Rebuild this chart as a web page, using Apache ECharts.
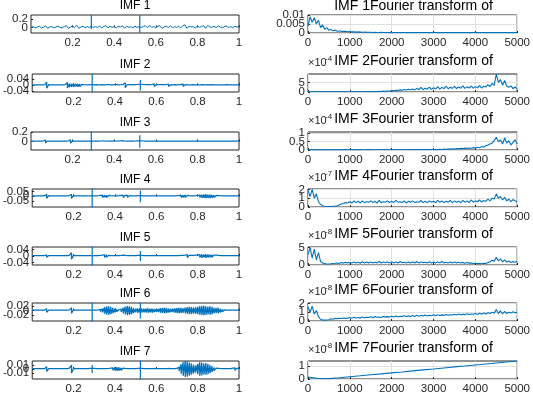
<!DOCTYPE html>
<html><head><meta charset="utf-8">
<script src="https://cdn.jsdelivr.net/npm/echarts@6/dist/echarts.min.js"></script>
<style>html,body{margin:0;padding:0;background:#fff}#c{width:533px;height:396px}</style>
</head><body><div id="c"></div>
<script>
// ---------- DATA ----------
const imfNames = ['IMF 1','IMF 2','IMF 3','IMF 4','IMF 5','IMF 6','IMF 7'];
const timeTicks = [0.2,0.4,0.6,0.8,1];
const freqTicks = [0,1000,2000,3000,4000,5000];

// IMF 1 signal (value per sample, t = 0..1)
const imf1 = [
0.00,0.02,-0.01,0.01,0.03,-0.01,0.00,0.04,-0.02,0.01,
0.02,-0.01,0.01,0.03,0.00,-0.01,0.02,0.04,-0.02,0.01,
0.03,0.00,0.05,-0.02,0.01,0.03,-0.01,0.02,0.00,0.02,
0.00,0.02,0.00,0.03,-0.01,0.02,0.04,-0.01,0.03,0.00,
0.02,-0.01,0.03,0.01,0.04,-0.02,0.03,0.00,0.02,-0.01,
0.03,0.00,0.02,0.00,0.02,0.04,-0.01,0.05,0.00,0.02,
-0.01,0.03,0.04,-0.02,0.01,0.03,0.00,0.04,-0.01,0.02,
0.00,0.03,-0.01,0.04,0.06,-0.02,0.03,0.01,0.02,-0.01,
0.03,0.00,0.02,0.04,-0.02,0.05,0.01,0.00,0.03,-0.01,
0.04,0.01,-0.01,0.02,0.03,0.00,0.02,-0.01,0.03,0.01,
0.02];
// IMF 2..7: oscillation envelope (half band height) per sample, t = 0..1
const imf2Env = [
0.003,0.003,0.003,0.003,0.003,0.003,0.004,0.02,0.004,0.003,
0.003,0.003,0.003,0.003,0.003,0.003,0.004,0.018,0.012,0.01,
0.011,0.009,0.01,0.008,0.006,0.004,0.003,0.003,0.004,0.004,
0.003,0.004,0.003,0.003,0.004,0.003,0.004,0.004,0.003,0.003,
0.004,0.004,0.003,0.004,0.006,0.016,0.005,0.004,0.003,0.004,
0.004,0.005,0.006,0.006,0.005,0.004,0.005,0.004,0.006,0.009,
0.005,0.004,0.005,0.004,0.004,0.005,0.008,0.004,0.003,0.004,
0.003,0.004,0.004,0.009,0.004,0.003,0.003,0.003,0.004,0.003,
0.003,0.003,0.004,0.003,0.003,0.004,0.003,0.004,0.003,0.003,
0.003,0.003,0.003,0.003,0.004,0.003,0.003,0.003,0.003,0.003,
0.003];
const imf3Env = [
0.008,0.008,0.008,0.008,0.008,0.008,0.01,0.03,0.01,0.008,
0.008,0.008,0.008,0.008,0.008,0.008,0.008,0.008,0.01,0.035,
0.01,0.008,0.008,0.008,0.008,0.008,0.008,0.008,0.01,0.01,
0.008,0.008,0.008,0.008,0.01,0.012,0.01,0.008,0.008,0.008,
0.014,0.01,0.012,0.01,0.02,0.01,0.008,0.008,0.008,0.008,
0.01,0.012,0.012,0.012,0.01,0.008,0.008,0.008,0.008,0.008,
0.008,0.008,0.009,0.008,0.008,0.008,0.008,0.009,0.008,0.008,
0.008,0.008,0.008,0.01,0.008,0.008,0.008,0.008,0.008,0.008,
0.008,0.008,0.009,0.008,0.008,0.008,0.008,0.008,0.008,0.008,
0.008,0.008,0.008,0.008,0.008,0.008,0.008,0.008,0.008,0.008,
0.008];
const imf4Env = [
0.004,0.004,0.004,0.004,0.004,0.004,0.006,0.02,0.006,0.004,
0.004,0.004,0.004,0.004,0.004,0.004,0.004,0.005,0.008,0.022,
0.006,0.004,0.004,0.004,0.004,0.004,0.004,0.004,0.005,0.005,
0.005,0.004,0.006,0.01,0.013,0.011,0.012,0.009,0.006,0.005,
0.004,0.005,0.006,0.01,0.012,0.009,0.011,0.006,0.004,0.005,
0.004,0.006,0.006,0.006,0.005,0.004,0.004,0.005,0.004,0.004,
0.004,0.005,0.004,0.004,0.005,0.004,0.004,0.005,0.004,0.005,
0.006,0.008,0.012,0.011,0.013,0.009,0.006,0.005,0.005,0.006,
0.008,0.012,0.016,0.018,0.02,0.017,0.019,0.014,0.012,0.01,
0.008,0.006,0.005,0.004,0.004,0.004,0.004,0.004,0.004,0.004,
0.004];
const imf5Env = [
0.0025,0.0025,0.0025,0.0025,0.0025,0.0025,0.003,0.007,0.003,0.0025,
0.0025,0.0025,0.0025,0.0025,0.0025,0.0025,0.0025,0.003,0.004,0.02,
0.004,0.0025,0.0025,0.0025,0.0025,0.0025,0.0025,0.0025,0.003,0.003,
0.003,0.0025,0.003,0.004,0.006,0.009,0.007,0.004,0.003,0.0025,
0.003,0.003,0.003,0.004,0.006,0.004,0.003,0.003,0.0025,0.003,
0.003,0.004,0.004,0.004,0.003,0.0025,0.003,0.003,0.003,0.0025,
0.003,0.0025,0.003,0.003,0.0025,0.003,0.003,0.0025,0.003,0.003,
0.003,0.003,0.004,0.004,0.005,0.009,0.005,0.004,0.004,0.005,
0.006,0.008,0.01,0.009,0.011,0.009,0.008,0.007,0.006,0.005,
0.004,0.003,0.0025,0.0025,0.0025,0.0025,0.0025,0.0025,0.0025,0.0025,
0.0025];
const imf6Env = [
0.0018,0.0018,0.0018,0.0018,0.0018,0.0018,0.002,0.008,0.002,0.0018,
0.0018,0.0018,0.0018,0.0018,0.0018,0.0018,0.0018,0.002,0.003,0.012,
0.003,0.0018,0.0018,0.0018,0.0018,0.002,0.0018,0.002,0.002,0.002,
0.002,0.002,0.003,0.005,0.009,0.014,0.018,0.019,0.016,0.012,
0.008,0.005,0.004,0.006,0.012,0.017,0.02,0.019,0.016,0.011,
0.008,0.01,0.009,0.009,0.008,0.009,0.01,0.008,0.009,0.007,
0.006,0.007,0.01,0.011,0.012,0.011,0.009,0.007,0.008,0.01,
0.011,0.012,0.011,0.01,0.012,0.014,0.016,0.015,0.013,0.014,
0.016,0.019,0.02,0.021,0.019,0.017,0.019,0.016,0.012,0.011,
0.012,0.008,0.005,0.003,0.002,0.002,0.0018,0.0018,0.0018,0.0018,
0.0018];
const imf7Env = [
0.0008,0.0008,0.0008,0.0008,0.0008,0.0008,0.001,0.006,0.001,0.0008,
0.0008,0.0008,0.0008,0.0008,0.0008,0.0008,0.0008,0.001,0.002,0.01,
0.0015,0.0008,0.0008,0.0008,0.0008,0.0008,0.0008,0.001,0.0015,0.0015,
0.0015,0.001,0.001,0.001,0.001,0.0012,0.0012,0.0015,0.002,0.003,
0.004,0.0045,0.004,0.003,0.002,0.0015,0.0012,0.001,0.001,0.001,
0.001,0.0015,0.0015,0.0015,0.001,0.001,0.001,0.001,0.001,0.001,
0.001,0.001,0.0012,0.0012,0.001,0.0012,0.0015,0.0012,0.001,0.0012,
0.0015,0.005,0.012,0.017,0.02,0.019,0.016,0.014,0.011,0.009,
0.013,0.017,0.016,0.014,0.015,0.013,0.01,0.007,0.004,0.002,
0.0015,0.001,0.001,0.0008,0.0008,0.0008,0.0008,0.002,0.003,0.002,
0.0012];
// sharp transients shared by all IMFs: time, and top / bottom value per IMF
const spikeTimes = [0.29, 0.523];
const spikeTop = [[0.29,0.29],[0.2,0.035],[0.5,0.13],[0.3,0.06],[0.2,0.03],[0.2,0.035],[0.01,0.04]];
const spikeBottom = [[-0.04,-0.13],[-0.2,-0.035],[-0.5,-0.13],[-0.3,-0.06],[-0.2,-0.03],[-0.2,-0.035],[-0.01,-0.04]];

const leftYRange = [[-0.13,0.29],[-0.045,0.075],[-0.18,0.2],[-0.11,0.075],[-0.055,0.055],[-0.046,0.033],[-0.025,0.02]];
const leftYTicks = [[0,0.2],[-0.04,0,0.04],[0,0.2],[-0.05,0,0.05],[-0.04,0,0.04],[-0.02,0,0.02],[-0.01,0,0.01]];

// Fourier spectra magnitudes, frequency 0..5000 (evenly spaced samples)
const spec1 = [
0.004,0.009,0.006,0.0085,0.005,0.007,0.003,0.0045,0.002,0.003,
0.0015,0.002,0.0012,0.0016,0.001,0.0012,0.0008,0.001,0.0009,0.0007,
0.0008,0.0006,0.0007,0.0005,0.0006,0.0005,0.0004,0.0005,0.0004,0.0004,
0.0004,0.0003,0.0004,0.0003,0.0003,0.0004,0.0003,0.0003,0.0002,0.0003,
0.0002,0.0003,0.0002,0.0003,0.0002,0.0002,0.0003,0.0002,0.0002,0.0003,
0.0002,0.0002,0.0003,0.0002,0.0002,0.0003,0.0002,0.0002,0.0002,0.0003,
0.0002,0.0002,0.0003,0.0002,0.0002,0.0002,0.0003,0.0002,0.0002,0.0002,
0.0003,0.0002,0.0002,0.0002,0.0003,0.0002,0.0002,0.0002,0.0002,0.0003,
0.0002,0.0002,0.0002,0.0003,0.0002,0.0002,0.0002,0.0002,0.0003,0.0002,
0.0002,0.0002,0.0003,0.0002,0.0002,0.0002,0.0002,0.0003,0.0002,0.0002,
0.0002];
const spec2 = [
0.1,0.15,0.1,0.12,0.1,0.15,0.1,0.12,0.1,0.1,
0.1,0.12,0.1,0.1,0.12,0.1,0.1,0.12,0.1,0.1,
0.12,0.1,0.15,0.1,0.12,0.15,0.12,0.15,0.2,0.15,
0.2,0.25,0.2,0.3,0.35,0.3,0.45,0.4,0.55,0.5,
0.7,0.6,0.9,0.8,1.1,0.9,1.3,1.0,1.4,1.2,
1.6,1.1,1.8,1.3,2.4,1.2,2.0,1.5,2.6,1.4,
2.2,1.6,2.8,1.5,2.4,1.8,3.0,1.7,2.5,1.9,
2.9,1.8,2.6,2.0,3.2,1.9,2.7,2.1,3.1,2.0,
2.8,2.2,3.4,2.0,3.0,2.6,3.8,2.8,4.5,3.5,
9.4,5.0,6.5,3.5,6.0,3.0,2.5,3.2,1.8,2.6,
1.5];
const spec3 = [
0.02,0.01,0.015,0.01,0.012,0.01,0.015,0.01,0.012,0.01,
0.012,0.01,0.014,0.01,0.012,0.01,0.013,0.01,0.012,0.01,
0.012,0.01,0.014,0.01,0.013,0.01,0.012,0.011,0.014,0.01,
0.013,0.011,0.015,0.012,0.014,0.011,0.016,0.012,0.015,0.012,
0.016,0.012,0.018,0.013,0.017,0.013,0.019,0.014,0.018,0.015,
0.02,0.015,0.022,0.016,0.021,0.017,0.024,0.018,0.023,0.02,
0.025,0.03,0.022,0.04,0.03,0.05,0.04,0.06,0.05,0.07,
0.06,0.08,0.07,0.1,0.08,0.11,0.09,0.12,0.1,0.14,
0.12,0.16,0.13,0.2,0.18,0.25,0.3,0.35,0.4,0.55,
0.75,0.5,0.6,0.35,0.72,0.4,0.55,0.3,0.45,0.6,
0.35];
const spec4 = [
1.9,1.2,2.0,1.0,1.5,0.6,0.3,0.15,0.08,0.05,
0.05,0.06,0.08,0.1,0.15,0.25,0.35,0.4,0.5,0.45,
0.6,0.45,0.7,0.5,0.65,0.45,0.7,0.5,0.6,0.55,
0.7,0.5,0.65,0.45,0.75,0.5,0.6,0.55,0.7,0.5,
0.65,0.5,0.75,0.55,0.6,0.5,0.7,0.45,0.65,0.55,
0.7,0.5,0.6,0.55,0.75,0.5,0.65,0.5,0.7,0.55,
0.65,0.5,0.75,0.55,0.7,0.5,0.65,0.55,0.75,0.5,
0.7,0.55,0.65,0.5,0.75,0.55,0.7,0.5,0.8,0.55,
0.7,0.6,0.8,0.55,0.75,0.65,0.9,0.7,1.0,0.9,
1.5,1.0,1.2,0.8,1.1,0.7,0.9,0.6,0.85,0.7,
0.6];
const spec5 = [
3.0,5.0,2.0,4.6,1.5,3.6,1.0,0.6,0.4,0.3,
0.3,0.35,0.45,0.5,0.6,0.45,0.7,0.55,0.8,0.6,
0.75,0.55,0.9,0.6,0.8,0.5,0.95,0.6,0.85,0.55,
0.9,0.6,0.8,0.55,1.0,0.6,0.85,0.65,0.9,0.55,
0.95,0.6,0.85,0.6,1.0,0.65,0.8,0.55,0.9,0.6,
0.85,0.6,1.0,0.55,0.9,0.65,0.8,0.6,0.95,0.55,
0.9,0.6,0.85,0.65,1.0,0.6,0.8,0.55,0.9,0.6,
0.85,0.55,0.8,0.6,0.75,0.5,0.7,0.55,0.6,0.45,
0.5,0.4,0.45,0.35,0.5,0.45,0.7,0.9,1.4,1.1,
2.2,1.2,1.8,0.9,1.5,0.8,1.2,0.7,1.0,0.8,
1.0];
const spec6 = [
1.6,1.0,1.7,0.8,1.2,0.5,0.2,0.12,0.1,0.12,
0.15,0.25,0.2,0.3,0.25,0.3,0.28,0.35,0.3,0.33,
0.4,0.3,0.42,0.35,0.4,0.33,0.45,0.38,0.42,0.4,
0.48,0.38,0.5,0.42,0.46,0.4,0.52,0.44,0.5,0.45,
0.55,0.45,0.58,0.48,0.55,0.5,0.6,0.5,0.58,0.52,
0.62,0.52,0.65,0.55,0.62,0.56,0.68,0.58,0.65,0.6,
0.7,0.6,0.72,0.62,0.7,0.64,0.75,0.65,0.72,0.68,
0.78,0.68,0.8,0.7,0.78,0.72,0.82,0.74,0.8,0.76,
0.85,0.75,0.88,0.78,0.9,0.8,0.95,0.85,1.0,0.9,
1.3,0.85,1.15,0.8,1.1,0.85,1.0,0.9,1.05,0.95,
1.0];
const spec7 = [0.15,0.04,0.03,0.1,0.18,0.25,0.33,0.4,0.48,0.55,0.63,0.71,0.78,0.86,0.94,1.01,1.09,1.17,1.25,1.32,1.4];
const rightYMax = [0.01,9.4,1.06,2.05,5.2,2.05,1.4];
const rightYTicks = [[0,0.005,0.01],[0,5],[0,0.5,1],[0,1,2],[0,5],[0,1,2],[0,1]];
const rightExp = [null,'-4','-4','-7','-8','-8','-8'];

const imfSignals = [imf1, imf2Env, imf3Env, imf4Env, imf5Env, imf6Env, imf7Env];
const spectra = [spec1, spec2, spec3, spec4, spec5, spec6, spec7];

// ---------- LAYOUT / STYLE ----------
const FONT = '"Liberation Sans", Arial, Helvetica, sans-serif';
const TXT = '#262626';
const BLUE = '#0072BD';
const GRIDC = '#e0e0e0';
const rowTops = [15,74,132,189,247,303,361];
const boxH = 18;
const L = {x:31, w:208}, R = {x:308, w:211};
const tickFont = 11.5, titleFont = 12, rTitleFont = 14;

const grids = [], xAxes = [], yAxes = [], series = [], gfx = [];
const lbl = (vals) => ({show: true, customValues: vals, showMinLabel: true, showMaxLabel: true, hideOverlap: false,
  formatter: v => String(v), margin: 4, fontSize: tickFont, color: TXT, fontFamily: FONT});
const tck = (vals) => ({show: true, inside: true, length: 2, customValues: vals, lineStyle: {color: TXT, width: 1}});

// one y axis per tick so that close labels are all kept
function addYAxes(gridIndex, min, max, ticks, split) {
  const first = yAxes.length;
  ticks.forEach(v => yAxes.push({gridIndex, type: 'value', position: 'left', offset: 0, min, max, axisLine: {show: false},
    axisTick: tck([v]), axisLabel: Object.assign(lbl([v]), {margin: 3}),
    splitLine: {show: split, lineStyle: {color: GRIDC, width: 1}}}));
  return first;
}

for (let r = 0; r < 7; r++) {
  const top = rowTops[r];
  grids.push({left: L.x, top: top, width: L.w, height: boxH, show: true, borderColor: TXT, borderWidth: 1, backgroundColor: '#fff', containLabel: false});
  grids.push({left: R.x, top: top, width: R.w, height: boxH, show: true, borderColor: TXT, borderWidth: 1, backgroundColor: '#fff', containLabel: false});
  const gl = 2*r, gr = 2*r + 1;
  const xl = xAxes.length;
  xAxes.push({gridIndex: gl, type: 'value', position: 'bottom', min: 0, max: 1, axisLine: {show: false}, axisTick: tck(timeTicks), axisLabel: lbl(timeTicks), splitLine: {show: false}});
  const xr = xAxes.length;
  xAxes.push({gridIndex: gr, type: 'value', position: 'bottom', min: 0, max: 5000, axisLine: {show: false}, axisTick: tck(freqTicks), axisLabel: lbl(freqTicks), splitLine: {show: true, lineStyle: {color: GRIDC, width: 1}}});
  const yl = addYAxes(gl, leftYRange[r][0], leftYRange[r][1], leftYTicks[r], false);
  const yr = addYAxes(gr, 0, rightYMax[r], rightYTicks[r], true);

  const sig = imfSignals[r];
  const n = sig.length;
  let pts = [];
  if (r === 0) {
    sig.forEach((v, i) => pts.push([i/(n-1), v]));
  } else {
    sig.forEach((a, i) => { const t = i/(n-1); pts.push([t, a], [t, -a]); });
  }
  const lineBase = {type: 'line', showSymbol: false, symbol: 'none', clip: true, silent: true, animation: false, connectNulls: false};
  series.push(Object.assign({}, lineBase, {xAxisIndex: xl, yAxisIndex: yl, data: pts, lineStyle: {color: BLUE, width: r === 0 ? 1 : 1.25}}));
  const sp = [];
  spikeTimes.forEach((t, k) => { sp.push([t, spikeTop[r][k]], [t, spikeBottom[r][k]], [t, '-']); });
  series.push(Object.assign({}, lineBase, {xAxisIndex: xl, yAxisIndex: yl, data: sp, lineStyle: {color: BLUE, width: 1.2}}));

  const spec = spectra[r];
  const m = spec.length;
  series.push(Object.assign({}, lineBase, {xAxisIndex: xr, yAxisIndex: yr, data: spec.map((v, i) => [i*5000/(m-1), v]), lineStyle: {color: BLUE, width: 1.1}}));

  gfx.push({type: 'text', x: L.x + L.w/2, y: top - 9, silent: true, style: {text: imfNames[r], fill: '#000', font: titleFont + 'px ' + FONT, align: 'center', verticalAlign: 'middle'}});
  const rc = R.x + R.w/2;
  if (rightExp[r]) {
    gfx.push({type: 'text', x: 308, y: top - 11, silent: true, style: {text: '×10', fill: TXT, font: '11px ' + FONT, align: 'left', verticalAlign: 'middle'}});
    gfx.push({type: 'text', x: 325, y: top - 15, silent: true, style: {text: rightExp[r], fill: TXT, font: '8px ' + FONT, align: 'left', verticalAlign: 'middle'}});
    gfx.push({type: 'text', x: rc, y: top - 13, silent: true, style: {text: imfNames[r] + 'Fourier transform of', fill: '#000', font: rTitleFont + 'px ' + FONT, align: 'center', verticalAlign: 'middle'}});
  } else {
    gfx.push({type: 'text', x: rc, y: top - 9, silent: true, style: {text: imfNames[r] + 'Fourier transform of', fill: '#000', font: rTitleFont + 'px ' + FONT, align: 'center', verticalAlign: 'middle'}});
  }
}

const chart = echarts.init(document.getElementById('c'), null, {renderer: 'canvas', width: 533, height: 396});
chart.setOption({
  backgroundColor: '#fff',
  animation: false,
  grid: grids, xAxis: xAxes, yAxis: yAxes, series: series,
  graphic: {elements: gfx}
});
</script></body></html>
